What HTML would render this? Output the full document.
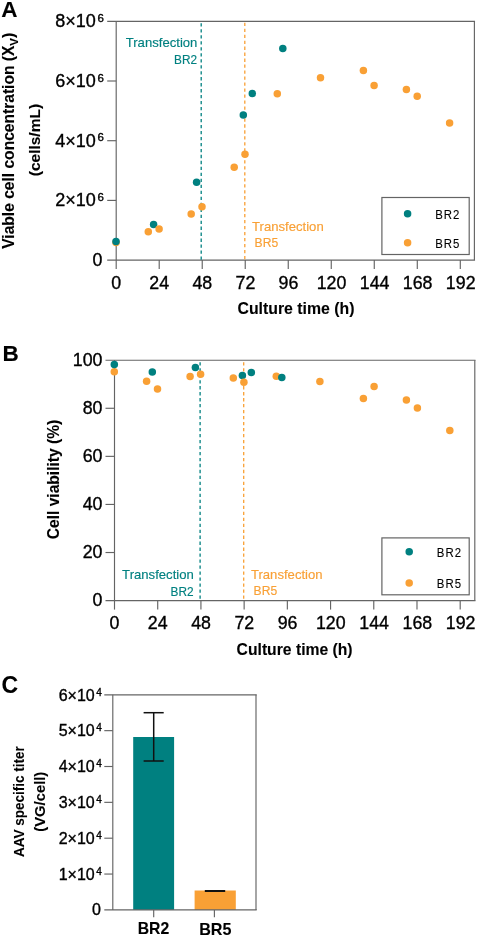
<!DOCTYPE html>
<html><head><meta charset="utf-8"><style>
html,body{margin:0;padding:0;background:#fff;}
svg{display:block;font-family:"Liberation Sans", sans-serif;will-change:transform;}
</style></head><body>
<svg width="477" height="937" viewBox="0 0 477 937">
<rect width="477" height="937" fill="#fff"/>
<line x1="116.2" y1="21.3" x2="116.2" y2="269.1" stroke="#646464" stroke-width="1.15" />
<line x1="107.2" y1="260.1" x2="475.05" y2="260.1" stroke="#646464" stroke-width="1.15" />
<line x1="107.2" y1="21.3" x2="475.05" y2="21.3" stroke="#646464" stroke-width="1.15" />
<line x1="474.4" y1="21.3" x2="474.4" y2="260.1" stroke="#646464" stroke-width="1.15" />
<line x1="107.2" y1="200.4" x2="116.2" y2="200.4" stroke="#646464" stroke-width="1.15" />
<line x1="107.2" y1="140.7" x2="116.2" y2="140.7" stroke="#646464" stroke-width="1.15" />
<line x1="107.2" y1="81" x2="116.2" y2="81" stroke="#646464" stroke-width="1.15" />
<line x1="159.21" y1="260.1" x2="159.21" y2="269.1" stroke="#646464" stroke-width="1.15" />
<line x1="202.23" y1="260.1" x2="202.23" y2="269.1" stroke="#646464" stroke-width="1.15" />
<line x1="245.24" y1="260.1" x2="245.24" y2="269.1" stroke="#646464" stroke-width="1.15" />
<line x1="288.25" y1="260.1" x2="288.25" y2="269.1" stroke="#646464" stroke-width="1.15" />
<line x1="331.26" y1="260.1" x2="331.26" y2="269.1" stroke="#646464" stroke-width="1.15" />
<line x1="374.27" y1="260.1" x2="374.27" y2="269.1" stroke="#646464" stroke-width="1.15" />
<line x1="417.29" y1="260.1" x2="417.29" y2="269.1" stroke="#646464" stroke-width="1.15" />
<line x1="460.3" y1="260.1" x2="460.3" y2="269.1" stroke="#646464" stroke-width="1.15" />
<text transform="translate(102.4 265.8)" font-size="17.8" fill="#000" font-weight="normal" text-anchor="end"  stroke="#000" stroke-width="0.35">0</text>
<text transform="translate(55.3 206.3)" font-size="18" fill="#000" font-weight="normal" text-anchor="start"  stroke="#000" stroke-width="0.35">2×10</text>
<text transform="translate(97.6 201)" font-size="11.5" fill="#000" font-weight="normal" text-anchor="start"  stroke="#000" stroke-width="0.35">6</text>
<text transform="translate(55.3 146.6)" font-size="18" fill="#000" font-weight="normal" text-anchor="start"  stroke="#000" stroke-width="0.35">4×10</text>
<text transform="translate(97.6 141.3)" font-size="11.5" fill="#000" font-weight="normal" text-anchor="start"  stroke="#000" stroke-width="0.35">6</text>
<text transform="translate(55.3 86.9)" font-size="18" fill="#000" font-weight="normal" text-anchor="start"  stroke="#000" stroke-width="0.35">6×10</text>
<text transform="translate(97.6 81.6)" font-size="11.5" fill="#000" font-weight="normal" text-anchor="start"  stroke="#000" stroke-width="0.35">6</text>
<text transform="translate(55.3 27.2)" font-size="18" fill="#000" font-weight="normal" text-anchor="start"  stroke="#000" stroke-width="0.35">8×10</text>
<text transform="translate(97.6 21.9)" font-size="11.5" fill="#000" font-weight="normal" text-anchor="start"  stroke="#000" stroke-width="0.35">6</text>
<text transform="translate(116.2 288.7)" font-size="17.8" fill="#000" font-weight="normal" text-anchor="middle"  stroke="#000" stroke-width="0.35">0</text>
<text transform="translate(159.26 288.7)" font-size="17.8" fill="#000" font-weight="normal" text-anchor="middle"  stroke="#000" stroke-width="0.35">24</text>
<text transform="translate(202.33 288.7)" font-size="17.8" fill="#000" font-weight="normal" text-anchor="middle"  stroke="#000" stroke-width="0.35">48</text>
<text transform="translate(245.39 288.7)" font-size="17.8" fill="#000" font-weight="normal" text-anchor="middle"  stroke="#000" stroke-width="0.35">72</text>
<text transform="translate(288.45 288.7)" font-size="17.8" fill="#000" font-weight="normal" text-anchor="middle"  stroke="#000" stroke-width="0.35">96</text>
<text transform="translate(331.51 288.7)" font-size="17.8" fill="#000" font-weight="normal" text-anchor="middle"  stroke="#000" stroke-width="0.35">120</text>
<text transform="translate(374.57 288.7)" font-size="17.8" fill="#000" font-weight="normal" text-anchor="middle"  stroke="#000" stroke-width="0.35">144</text>
<text transform="translate(417.64 288.7)" font-size="17.8" fill="#000" font-weight="normal" text-anchor="middle"  stroke="#000" stroke-width="0.35">168</text>
<text transform="translate(460.7 288.7)" font-size="17.8" fill="#000" font-weight="normal" text-anchor="middle"  stroke="#000" stroke-width="0.35">192</text>
<text transform="translate(296 314)" font-size="16" fill="#000" font-weight="bold" text-anchor="middle" textLength="117" lengthAdjust="spacingAndGlyphs" stroke="#000" stroke-width="0.1">Culture time (h)</text>
<text transform="translate(13.8 140.8) rotate(-90)" font-size="15.6" fill="#000" font-weight="bold" text-anchor="middle" textLength="216" lengthAdjust="spacingAndGlyphs" stroke="#000" stroke-width="0.1">Viable cell concentration (X<tspan font-size="11.5" dy="4">V</tspan><tspan dy="-4">)</tspan></text>
<text transform="translate(40.4 140.1) rotate(-90)" font-size="15.5" fill="#000" font-weight="bold" text-anchor="middle" textLength="72.3" lengthAdjust="spacingAndGlyphs" stroke="#000" stroke-width="0.1">(cells/mL)</text>
<text transform="translate(1.3 17)" font-size="22.5" fill="#000" font-weight="bold" text-anchor="start"  stroke="#000" stroke-width="0.1">A</text>
<line x1="201.2" y1="23.3" x2="201.2" y2="260.1" stroke="#008080" stroke-width="1.3" stroke-dasharray="3.3 2.68"/>
<line x1="244.8" y1="22.7" x2="244.8" y2="260.1" stroke="#F9A035" stroke-width="1.3" stroke-dasharray="3.3 2.68"/>
<text transform="translate(197.4 47.3)" font-size="13.6" fill="#008080" font-weight="normal" text-anchor="end" textLength="71.7" lengthAdjust="spacingAndGlyphs" stroke="#008080" stroke-width="0.15">Transfection</text>
<text transform="translate(197 64) scale(0.87 1)" font-size="13.6" fill="#008080" font-weight="normal" text-anchor="end"  stroke="#008080" stroke-width="0.15">BR2</text>
<text transform="translate(252 230.7)" font-size="13.6" fill="#F9A035" font-weight="normal" text-anchor="start" textLength="71.7" lengthAdjust="spacingAndGlyphs" stroke="#F9A035" stroke-width="0.15">Transfection</text>
<text transform="translate(254.6 247.4) scale(0.89 1)" font-size="13.6" fill="#F9A035" font-weight="normal" text-anchor="start"  stroke="#F9A035" stroke-width="0.15">BR5</text>
<rect x="381.9" y="197.5" width="87.3" height="57.0" fill="none" stroke="#646464" stroke-width="1.2"/>
<circle cx="407.6" cy="213.7" r="3.75" fill="#008080"/>
<circle cx="407.6" cy="242.8" r="3.75" fill="#F9A035"/>
<text transform="translate(435.2 218.8) scale(0.84 1)" font-size="13.6" fill="#000" font-weight="normal" text-anchor="start" letter-spacing="1.2" stroke="#000" stroke-width="0.1">BR2</text>
<text transform="translate(435.2 247.7) scale(0.84 1)" font-size="13.6" fill="#000" font-weight="normal" text-anchor="start" letter-spacing="1.2" stroke="#000" stroke-width="0.1">BR5</text>
<circle cx="116.0" cy="242.6" r="3.75" fill="#F9A035"/>
<circle cx="116.0" cy="241.5" r="3.75" fill="#008080"/>
<circle cx="153.6" cy="224.5" r="3.75" fill="#008080"/>
<circle cx="196.6" cy="182.3" r="3.75" fill="#008080"/>
<circle cx="243.3" cy="115.0" r="3.75" fill="#008080"/>
<circle cx="252.3" cy="93.4" r="3.75" fill="#008080"/>
<circle cx="282.8" cy="48.4" r="3.75" fill="#008080"/>
<circle cx="148.3" cy="231.7" r="3.75" fill="#F9A035"/>
<circle cx="159.1" cy="229.0" r="3.75" fill="#F9A035"/>
<circle cx="191.2" cy="214.0" r="3.75" fill="#F9A035"/>
<circle cx="202.0" cy="206.8" r="3.75" fill="#F9A035"/>
<circle cx="234.2" cy="167.2" r="3.75" fill="#F9A035"/>
<circle cx="245.0" cy="154.2" r="3.75" fill="#F9A035"/>
<circle cx="277.3" cy="93.7" r="3.75" fill="#F9A035"/>
<circle cx="320.5" cy="77.8" r="3.75" fill="#F9A035"/>
<circle cx="363.4" cy="70.5" r="3.75" fill="#F9A035"/>
<circle cx="374.1" cy="85.4" r="3.75" fill="#F9A035"/>
<circle cx="406.4" cy="89.6" r="3.75" fill="#F9A035"/>
<circle cx="417.2" cy="96.3" r="3.75" fill="#F9A035"/>
<circle cx="449.6" cy="123.0" r="3.75" fill="#F9A035"/>
<line x1="114.5" y1="360.2" x2="114.5" y2="609.6" stroke="#646464" stroke-width="1.15" />
<line x1="105.5" y1="600.6" x2="475.5" y2="600.6" stroke="#646464" stroke-width="1.15" />
<line x1="105.5" y1="360.2" x2="475.5" y2="360.2" stroke="#646464" stroke-width="1.15" />
<line x1="474.8" y1="360.2" x2="474.8" y2="600.6" stroke="#646464" stroke-width="1.15" />
<line x1="105.5" y1="552.52" x2="114.5" y2="552.52" stroke="#646464" stroke-width="1.15" />
<line x1="105.5" y1="504.44" x2="114.5" y2="504.44" stroke="#646464" stroke-width="1.15" />
<line x1="105.5" y1="456.36" x2="114.5" y2="456.36" stroke="#646464" stroke-width="1.15" />
<line x1="105.5" y1="408.28" x2="114.5" y2="408.28" stroke="#646464" stroke-width="1.15" />
<line x1="157.71" y1="600.6" x2="157.71" y2="609.6" stroke="#646464" stroke-width="1.15" />
<line x1="200.93" y1="600.6" x2="200.93" y2="609.6" stroke="#646464" stroke-width="1.15" />
<line x1="244.14" y1="600.6" x2="244.14" y2="609.6" stroke="#646464" stroke-width="1.15" />
<line x1="287.35" y1="600.6" x2="287.35" y2="609.6" stroke="#646464" stroke-width="1.15" />
<line x1="330.56" y1="600.6" x2="330.56" y2="609.6" stroke="#646464" stroke-width="1.15" />
<line x1="373.77" y1="600.6" x2="373.77" y2="609.6" stroke="#646464" stroke-width="1.15" />
<line x1="416.99" y1="600.6" x2="416.99" y2="609.6" stroke="#646464" stroke-width="1.15" />
<line x1="460.2" y1="600.6" x2="460.2" y2="609.6" stroke="#646464" stroke-width="1.15" />
<text transform="translate(102.5 606.3)" font-size="17.8" fill="#000" font-weight="normal" text-anchor="end"  stroke="#000" stroke-width="0.35">0</text>
<text transform="translate(102.5 558.22)" font-size="17.8" fill="#000" font-weight="normal" text-anchor="end"  stroke="#000" stroke-width="0.35">20</text>
<text transform="translate(102.5 510.14)" font-size="17.8" fill="#000" font-weight="normal" text-anchor="end"  stroke="#000" stroke-width="0.35">40</text>
<text transform="translate(102.5 462.06)" font-size="17.8" fill="#000" font-weight="normal" text-anchor="end"  stroke="#000" stroke-width="0.35">60</text>
<text transform="translate(102.5 413.98)" font-size="17.8" fill="#000" font-weight="normal" text-anchor="end"  stroke="#000" stroke-width="0.35">80</text>
<text transform="translate(102.5 365.9)" font-size="17.8" fill="#000" font-weight="normal" text-anchor="end"  stroke="#000" stroke-width="0.35">100</text>
<text transform="translate(114.5 629.2)" font-size="17.8" fill="#000" font-weight="normal" text-anchor="middle"  stroke="#000" stroke-width="0.35">0</text>
<text transform="translate(157.76 629.2)" font-size="17.8" fill="#000" font-weight="normal" text-anchor="middle"  stroke="#000" stroke-width="0.35">24</text>
<text transform="translate(201.03 629.2)" font-size="17.8" fill="#000" font-weight="normal" text-anchor="middle"  stroke="#000" stroke-width="0.35">48</text>
<text transform="translate(244.29 629.2)" font-size="17.8" fill="#000" font-weight="normal" text-anchor="middle"  stroke="#000" stroke-width="0.35">72</text>
<text transform="translate(287.55 629.2)" font-size="17.8" fill="#000" font-weight="normal" text-anchor="middle"  stroke="#000" stroke-width="0.35">96</text>
<text transform="translate(330.81 629.2)" font-size="17.8" fill="#000" font-weight="normal" text-anchor="middle"  stroke="#000" stroke-width="0.35">120</text>
<text transform="translate(374.07 629.2)" font-size="17.8" fill="#000" font-weight="normal" text-anchor="middle"  stroke="#000" stroke-width="0.35">144</text>
<text transform="translate(417.34 629.2)" font-size="17.8" fill="#000" font-weight="normal" text-anchor="middle"  stroke="#000" stroke-width="0.35">168</text>
<text transform="translate(460.6 629.2)" font-size="17.8" fill="#000" font-weight="normal" text-anchor="middle"  stroke="#000" stroke-width="0.35">192</text>
<text transform="translate(294.6 655.3)" font-size="16" fill="#000" font-weight="bold" text-anchor="middle" textLength="116" lengthAdjust="spacingAndGlyphs" stroke="#000" stroke-width="0.1">Culture time (h)</text>
<text transform="translate(58.6 479.5) rotate(-90)" font-size="15.8" fill="#000" font-weight="bold" text-anchor="middle" textLength="119.5" lengthAdjust="spacingAndGlyphs" stroke="#000" stroke-width="0.1">Cell viability (%)</text>
<text transform="translate(2.6 361.2)" font-size="22.5" fill="#000" font-weight="bold" text-anchor="start"  stroke="#000" stroke-width="0.1">B</text>
<line x1="200.1" y1="362.2" x2="200.1" y2="600.6" stroke="#008080" stroke-width="1.3" stroke-dasharray="3.3 2.68"/>
<line x1="243.7" y1="362.2" x2="243.7" y2="600.6" stroke="#F9A035" stroke-width="1.3" stroke-dasharray="3.3 2.68"/>
<text transform="translate(193.8 579)" font-size="13.6" fill="#008080" font-weight="normal" text-anchor="end" textLength="71.7" lengthAdjust="spacingAndGlyphs" stroke="#008080" stroke-width="0.15">Transfection</text>
<text transform="translate(193.6 595.5) scale(0.87 1)" font-size="13.6" fill="#008080" font-weight="normal" text-anchor="end"  stroke="#008080" stroke-width="0.15">BR2</text>
<text transform="translate(250.9 579)" font-size="13.6" fill="#F9A035" font-weight="normal" text-anchor="start" textLength="71.7" lengthAdjust="spacingAndGlyphs" stroke="#F9A035" stroke-width="0.15">Transfection</text>
<text transform="translate(253.6 595.3) scale(0.89 1)" font-size="13.6" fill="#F9A035" font-weight="normal" text-anchor="start"  stroke="#F9A035" stroke-width="0.15">BR5</text>
<rect x="381.9" y="537.9" width="87.3" height="56.9" fill="none" stroke="#646464" stroke-width="1.2"/>
<circle cx="409.2" cy="551.8" r="3.75" fill="#008080"/>
<circle cx="409.2" cy="582.9" r="3.75" fill="#F9A035"/>
<text transform="translate(436.8 557.2) scale(0.84 1)" font-size="13.6" fill="#000" font-weight="normal" text-anchor="start" letter-spacing="1.2" stroke="#000" stroke-width="0.1">BR2</text>
<text transform="translate(436.8 587.8) scale(0.84 1)" font-size="13.6" fill="#000" font-weight="normal" text-anchor="start" letter-spacing="1.2" stroke="#000" stroke-width="0.1">BR5</text>
<circle cx="114.3" cy="371.8" r="3.75" fill="#F9A035"/>
<circle cx="114.3" cy="364.6" r="3.75" fill="#008080"/>
<circle cx="152.3" cy="372.1" r="3.75" fill="#008080"/>
<circle cx="195.4" cy="367.6" r="3.75" fill="#008080"/>
<circle cx="242.4" cy="375.5" r="3.75" fill="#008080"/>
<circle cx="146.6" cy="381.3" r="3.75" fill="#F9A035"/>
<circle cx="157.5" cy="388.9" r="3.75" fill="#F9A035"/>
<circle cx="190.1" cy="376.5" r="3.75" fill="#F9A035"/>
<circle cx="200.6" cy="374.3" r="3.75" fill="#F9A035"/>
<circle cx="233.3" cy="378.1" r="3.75" fill="#F9A035"/>
<circle cx="243.9" cy="382.2" r="3.75" fill="#F9A035"/>
<circle cx="276.3" cy="376.3" r="3.75" fill="#F9A035"/>
<circle cx="251.3" cy="372.4" r="3.75" fill="#008080"/>
<circle cx="281.8" cy="377.4" r="3.75" fill="#008080"/>
<circle cx="319.9" cy="381.5" r="3.75" fill="#F9A035"/>
<circle cx="363.4" cy="398.5" r="3.75" fill="#F9A035"/>
<circle cx="374.1" cy="386.5" r="3.75" fill="#F9A035"/>
<circle cx="406.4" cy="400.0" r="3.75" fill="#F9A035"/>
<circle cx="417.4" cy="408.1" r="3.75" fill="#F9A035"/>
<circle cx="449.8" cy="430.6" r="3.75" fill="#F9A035"/>
<rect x="133.2" y="737.0" width="40.9" height="172.9" fill="#008080"/>
<rect x="194.6" y="890.5" width="41.2" height="19.4" fill="#F9A035"/>
<line x1="112.8" y1="694.8" x2="112.8" y2="909.9" stroke="#646464" stroke-width="1.15" />
<line x1="104.3" y1="909.9" x2="256.7" y2="909.9" stroke="#646464" stroke-width="1.15" />
<line x1="104.3" y1="694.8" x2="256.7" y2="694.8" stroke="#646464" stroke-width="1.15" />
<line x1="256" y1="694.8" x2="256" y2="909.9" stroke="#646464" stroke-width="1.15" />
<line x1="104.3" y1="874.05" x2="112.8" y2="874.05" stroke="#646464" stroke-width="1.15" />
<line x1="104.3" y1="838.2" x2="112.8" y2="838.2" stroke="#646464" stroke-width="1.15" />
<line x1="104.3" y1="802.35" x2="112.8" y2="802.35" stroke="#646464" stroke-width="1.15" />
<line x1="104.3" y1="766.5" x2="112.8" y2="766.5" stroke="#646464" stroke-width="1.15" />
<line x1="104.3" y1="730.65" x2="112.8" y2="730.65" stroke="#646464" stroke-width="1.15" />
<line x1="153.7" y1="909.9" x2="153.7" y2="917.3" stroke="#646464" stroke-width="1.15" />
<line x1="214.4" y1="909.9" x2="214.4" y2="917.3" stroke="#646464" stroke-width="1.15" />
<line x1="153.7" y1="712.7" x2="153.7" y2="761" stroke="#111" stroke-width="1.5" />
<line x1="143.6" y1="712.7" x2="163.7" y2="712.7" stroke="#111" stroke-width="1.5" />
<line x1="143.6" y1="761" x2="163.7" y2="761" stroke="#111" stroke-width="1.5" />
<line x1="204.8" y1="891" x2="225.2" y2="891" stroke="#111" stroke-width="2.0" />
<text transform="translate(100.9 915.4)" font-size="16" fill="#000" font-weight="normal" text-anchor="end"  stroke="#000" stroke-width="0.35">0</text>
<text transform="translate(58.7 879.75)" font-size="16" fill="#000" font-weight="normal" text-anchor="start"  stroke="#000" stroke-width="0.35">1×10</text>
<text transform="translate(96.3 874.85)" font-size="10" fill="#000" font-weight="normal" text-anchor="start"  stroke="#000" stroke-width="0.35">4</text>
<text transform="translate(58.7 843.9)" font-size="16" fill="#000" font-weight="normal" text-anchor="start"  stroke="#000" stroke-width="0.35">2×10</text>
<text transform="translate(96.3 839)" font-size="10" fill="#000" font-weight="normal" text-anchor="start"  stroke="#000" stroke-width="0.35">4</text>
<text transform="translate(58.7 808.05)" font-size="16" fill="#000" font-weight="normal" text-anchor="start"  stroke="#000" stroke-width="0.35">3×10</text>
<text transform="translate(96.3 803.15)" font-size="10" fill="#000" font-weight="normal" text-anchor="start"  stroke="#000" stroke-width="0.35">4</text>
<text transform="translate(58.7 772.2)" font-size="16" fill="#000" font-weight="normal" text-anchor="start"  stroke="#000" stroke-width="0.35">4×10</text>
<text transform="translate(96.3 767.3)" font-size="10" fill="#000" font-weight="normal" text-anchor="start"  stroke="#000" stroke-width="0.35">4</text>
<text transform="translate(58.7 736.35)" font-size="16" fill="#000" font-weight="normal" text-anchor="start"  stroke="#000" stroke-width="0.35">5×10</text>
<text transform="translate(96.3 731.45)" font-size="10" fill="#000" font-weight="normal" text-anchor="start"  stroke="#000" stroke-width="0.35">4</text>
<text transform="translate(58.7 700.5)" font-size="16" fill="#000" font-weight="normal" text-anchor="start"  stroke="#000" stroke-width="0.35">6×10</text>
<text transform="translate(96.3 695.6)" font-size="10" fill="#000" font-weight="normal" text-anchor="start"  stroke="#000" stroke-width="0.35">4</text>
<text transform="translate(153.5 934.4)" font-size="16.2" fill="#000" font-weight="bold" text-anchor="middle" textLength="31.5" lengthAdjust="spacingAndGlyphs" stroke="#000" stroke-width="0.1">BR2</text>
<text transform="translate(215.3 934.8)" font-size="16.2" fill="#000" font-weight="bold" text-anchor="middle" textLength="32.3" lengthAdjust="spacingAndGlyphs" stroke="#000" stroke-width="0.1">BR5</text>
<text transform="translate(24 801.6) rotate(-90)" font-size="14.8" fill="#000" font-weight="bold" text-anchor="middle" textLength="111" lengthAdjust="spacingAndGlyphs" stroke="#000" stroke-width="0.1">AAV specific titer</text>
<text transform="translate(45.2 801.7) rotate(-90)" font-size="14.8" fill="#000" font-weight="bold" text-anchor="middle" textLength="60" lengthAdjust="spacingAndGlyphs" stroke="#000" stroke-width="0.1">(VG/cell)</text>
<text transform="translate(1.6 693.2)" font-size="23" fill="#000" font-weight="bold" text-anchor="start"  stroke="#000" stroke-width="0.1">C</text>
</svg>
</body></html>
